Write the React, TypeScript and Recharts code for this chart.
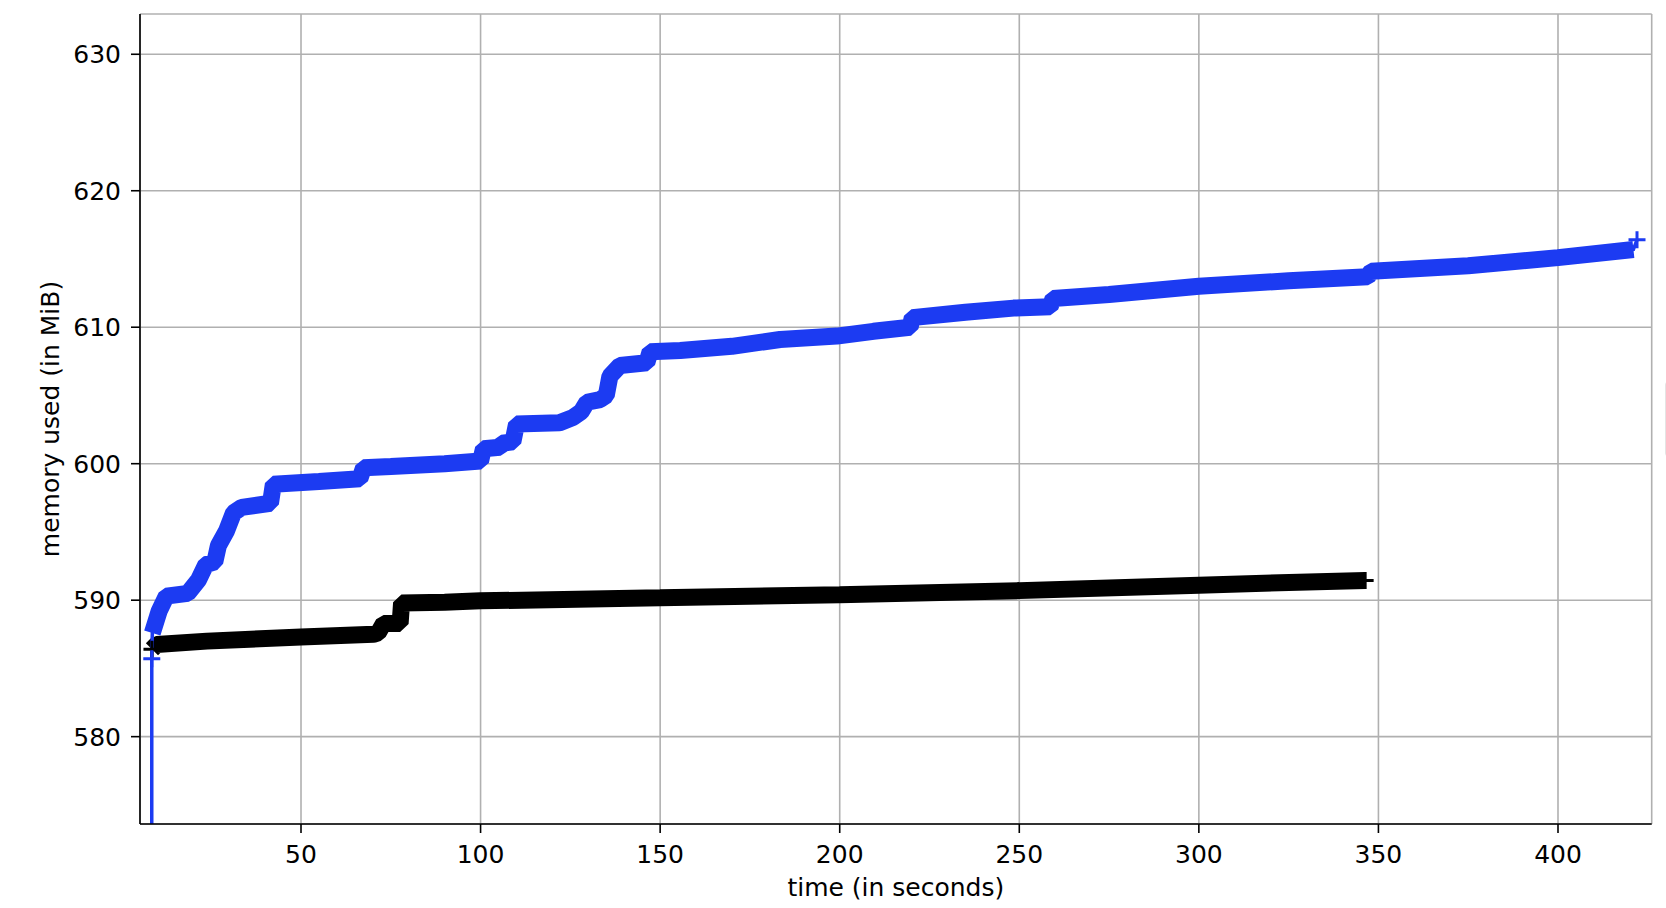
import React from "react";
import { CartesianGrid, ComposedChart, Label, Line, XAxis, YAxis } from "recharts";

const xTicks = [50, 100, 150, 200, 250, 300, 350, 400];
const yTicks = [580, 590, 600, 610, 620, 630];

// blue profile (longer run); first sample sits below the visible range
const blueTime = [
  8.44, 8.45, 8.6, 10.5, 12.5, 18.5, 21.5, 23.5, 26.0, 27.0, 29.3, 31.2, 33.5, 41.5, 42.3, 55, 66.4, 67.4, 75, 90,
  100, 100.8, 105.4, 106, 109, 110, 122, 125.8, 128, 129.6, 133.3, 135, 136, 138.8, 146.3, 147.2, 155.6, 170,
  183.4, 199.2, 209.4, 219.6, 220.2, 235, 248.4, 258.6, 259.4, 275, 300, 325, 347, 348, 375, 400, 421, 422,
];
const blueMem = [
  565, 585.7, 587.6, 589.2, 590.3, 590.5, 591.5, 592.6, 592.8, 594.0, 595.1, 596.4, 596.8, 597.1, 598.5, 598.7,
  598.9, 599.7, 599.8, 600.0, 600.2, 601.1, 601.2, 601.5, 601.6, 602.9, 603.0, 603.4, 603.8, 604.5, 604.7, 605.0,
  606.4, 607.2, 607.4, 608.2, 608.3, 608.6, 609.1, 609.35, 609.7, 610.0, 610.7, 611.1, 611.4, 611.5, 612.1,
  612.4, 613.0, 613.4, 613.7, 614.1, 614.5, 615.1, 615.7, 616.4,
];

// black profile (shorter run)
const blackTime = [8.5, 9.8, 23.8, 50, 70.2, 71.5, 73, 77.6, 78, 90, 100, 150, 200, 250, 300, 346.3];
const blackMem = [586.4, 586.75, 587.0, 587.3, 587.5, 587.6, 588.3, 588.3, 589.8, 589.85, 589.95, 590.17, 590.4, 590.7, 591.1, 591.45];

const BLUE = "#1c3bf2";
const BLACK = "#000000";

const zip = (ts: number[], vs: number[]) => ts.map((t, i) => ({ t, v: vs[i] }));

const blueAll = zip(blueTime, blueMem);
const blueBand = blueAll.slice(2, -1);
const blueMarks = [blueAll[1], blueAll[blueAll.length - 1]];

const blackAll = zip(blackTime, blackMem);
const blackMarks = [blackAll[0], blackAll[blackAll.length - 1]];

const plus = (color: string) => (props: any) => {
  const { cx, cy, index } = props;
  return (
    <path
      key={`p-${color}-${index}`}
      d={`M${cx - 8.5},${cy}H${cx + 8.5}M${cx},${cy - 8.5}V${cy + 8.5}`}
      stroke={color}
      strokeWidth={3}
      fill="none"
    />
  );
};

const font = { fontFamily: "DejaVu Sans", fontSize: 25, fill: "#000" };
const spine = { stroke: "#000", strokeWidth: 1.6 };

export default function App() {
  return (
    <div style={{ position: "absolute", left: 0, top: 0, width: 1666, height: 908, overflow: "hidden", background: "#fff" }}>
      <ComposedChart width={1666} height={908} margin={{ top: 14, right: 14.3, bottom: 0, left: 0 }}>
        <CartesianGrid stroke="#b0b0b0" strokeWidth={1.6} />
        <XAxis
          type="number"
          dataKey="t"
          domain={[5.17, 426.09]}
          ticks={xTicks}
          allowDataOverflow
          height={84}
          tickSize={9}
          tickMargin={12}
          tick={font}
          tickLine={spine}
          axisLine={spine}
        >
          <Label value="time (in seconds)" position="insideBottom" offset={12} {...font} />
        </XAxis>
        <XAxis xAxisId="top" orientation="top" type="number" domain={[5.17, 426.09]} height={0} tick={false} tickLine={false} axisLine={spine} />
        <YAxis
          type="number"
          domain={[573.6, 632.95]}
          ticks={yTicks}
          allowDataOverflow
          width={140}
          tickSize={9}
          tickMargin={10}
          tick={font}
          tickLine={spine}
          axisLine={spine}
        >
          <Label value="memory used (in MiB)" angle={-90} position="insideLeft" offset={50} style={{ textAnchor: "middle" }} {...font} />
        </YAxis>
        <YAxis yAxisId="right" orientation="right" type="number" domain={[573.6, 632.95]} width={0} tick={false} tickLine={false} axisLine={spine} />

        <Line data={blackAll} dataKey="v" stroke={BLACK} strokeWidth={17} strokeLinejoin="bevel" dot={false} isAnimationActive={false} />
        <Line data={blackMarks} dataKey="v" stroke="none" dot={plus(BLACK)} isAnimationActive={false} />

        <Line data={blueAll} dataKey="v" stroke={BLUE} strokeWidth={3.5} dot={false} isAnimationActive={false} />
        <Line data={blueBand} dataKey="v" stroke={BLUE} strokeWidth={17} strokeLinejoin="bevel" dot={false} isAnimationActive={false} />
        <Line data={blueMarks} dataKey="v" stroke="none" dot={plus(BLUE)} isAnimationActive={false} />
      </ComposedChart>
      <div
        style={{
          position: "absolute",
          left: 1665,
          top: 380,
          width: 120,
          height: 78,
          border: "1.5px solid #e4e4e4",
          borderRadius: 5,
          boxSizing: "border-box",
        }}
      />
    </div>
  );
}
